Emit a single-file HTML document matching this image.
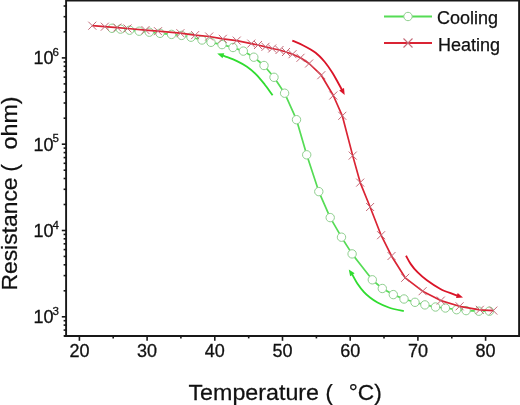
<!DOCTYPE html><html><head><meta charset="utf-8"><style>html,body{margin:0;padding:0;background:#fff;width:520px;height:405px;overflow:hidden}svg{display:block}</style></head><body><svg width="520" height="405" viewBox="0 0 520 405">
<rect x="0" y="0" width="520" height="405" fill="#fff"/>
<polyline points="112.0,28.3 120.5,29.1 129.6,30.2 139.2,31.2 149.3,32.2 160.0,33.3 171.5,34.4 181.6,35.4 191.0,37.2 202.0,40.0 211.0,42.3 222.0,44.6 233.0,47.5 243.3,51.1 253.8,57.2 264.0,65.5 274.0,77.3 284.6,93.2 296.5,119.7 306.7,154.8 318.8,191.6 330.2,217.6 341.5,237.2 352.1,253.9 372.3,279.8 382.3,288.5 393.3,294.6 404.0,299.0 415.0,302.3 424.9,304.9 435.5,307.0 445.4,308.0 456.6,309.7 466.1,310.6 478.8,311.2 489.4,311.2" fill="none" stroke="#55dc55" stroke-width="1.7" stroke-linejoin="round"/>
<circle cx="112.0" cy="28.3" r="4.2" fill="#fff" stroke="#8fcf8f" stroke-width="1.0"/>
<circle cx="120.5" cy="29.1" r="4.2" fill="#fff" stroke="#8fcf8f" stroke-width="1.0"/>
<circle cx="129.6" cy="30.2" r="4.2" fill="#fff" stroke="#8fcf8f" stroke-width="1.0"/>
<circle cx="139.2" cy="31.2" r="4.2" fill="#fff" stroke="#8fcf8f" stroke-width="1.0"/>
<circle cx="149.3" cy="32.2" r="4.2" fill="#fff" stroke="#8fcf8f" stroke-width="1.0"/>
<circle cx="160.0" cy="33.3" r="4.2" fill="#fff" stroke="#8fcf8f" stroke-width="1.0"/>
<circle cx="171.5" cy="34.4" r="4.2" fill="#fff" stroke="#8fcf8f" stroke-width="1.0"/>
<circle cx="181.6" cy="35.4" r="4.2" fill="#fff" stroke="#8fcf8f" stroke-width="1.0"/>
<circle cx="191.0" cy="37.2" r="4.2" fill="#fff" stroke="#8fcf8f" stroke-width="1.0"/>
<circle cx="202.0" cy="40.0" r="4.2" fill="#fff" stroke="#8fcf8f" stroke-width="1.0"/>
<circle cx="211.0" cy="42.3" r="4.2" fill="#fff" stroke="#8fcf8f" stroke-width="1.0"/>
<circle cx="222.0" cy="44.6" r="4.2" fill="#fff" stroke="#8fcf8f" stroke-width="1.0"/>
<circle cx="233.0" cy="47.5" r="4.2" fill="#fff" stroke="#8fcf8f" stroke-width="1.0"/>
<circle cx="243.3" cy="51.1" r="4.2" fill="#fff" stroke="#8fcf8f" stroke-width="1.0"/>
<circle cx="253.8" cy="57.2" r="4.2" fill="#fff" stroke="#8fcf8f" stroke-width="1.0"/>
<circle cx="264.0" cy="65.5" r="4.2" fill="#fff" stroke="#8fcf8f" stroke-width="1.0"/>
<circle cx="274.0" cy="77.3" r="4.2" fill="#fff" stroke="#8fcf8f" stroke-width="1.0"/>
<circle cx="284.6" cy="93.2" r="4.2" fill="#fff" stroke="#8fcf8f" stroke-width="1.0"/>
<circle cx="296.5" cy="119.7" r="4.2" fill="#fff" stroke="#8fcf8f" stroke-width="1.0"/>
<circle cx="306.7" cy="154.8" r="4.2" fill="#fff" stroke="#8fcf8f" stroke-width="1.0"/>
<circle cx="318.8" cy="191.6" r="4.2" fill="#fff" stroke="#8fcf8f" stroke-width="1.0"/>
<circle cx="330.2" cy="217.6" r="4.2" fill="#fff" stroke="#8fcf8f" stroke-width="1.0"/>
<circle cx="341.5" cy="237.2" r="4.2" fill="#fff" stroke="#8fcf8f" stroke-width="1.0"/>
<circle cx="352.1" cy="253.9" r="4.2" fill="#fff" stroke="#8fcf8f" stroke-width="1.0"/>
<circle cx="372.3" cy="279.8" r="4.2" fill="#fff" stroke="#8fcf8f" stroke-width="1.0"/>
<circle cx="382.3" cy="288.5" r="4.2" fill="#fff" stroke="#8fcf8f" stroke-width="1.0"/>
<circle cx="393.3" cy="294.6" r="4.2" fill="#fff" stroke="#8fcf8f" stroke-width="1.0"/>
<circle cx="404.0" cy="299.0" r="4.2" fill="#fff" stroke="#8fcf8f" stroke-width="1.0"/>
<circle cx="415.0" cy="302.3" r="4.2" fill="#fff" stroke="#8fcf8f" stroke-width="1.0"/>
<circle cx="424.9" cy="304.9" r="4.2" fill="#fff" stroke="#8fcf8f" stroke-width="1.0"/>
<circle cx="435.5" cy="307.0" r="4.2" fill="#fff" stroke="#8fcf8f" stroke-width="1.0"/>
<circle cx="445.4" cy="308.0" r="4.2" fill="#fff" stroke="#8fcf8f" stroke-width="1.0"/>
<circle cx="456.6" cy="309.7" r="4.2" fill="#fff" stroke="#8fcf8f" stroke-width="1.0"/>
<circle cx="466.1" cy="310.6" r="4.2" fill="#fff" stroke="#8fcf8f" stroke-width="1.0"/>
<circle cx="478.8" cy="311.2" r="4.2" fill="#fff" stroke="#8fcf8f" stroke-width="1.0"/>
<circle cx="489.4" cy="311.2" r="4.2" fill="#fff" stroke="#8fcf8f" stroke-width="1.0"/>
<polyline points="92.3,25.7 104.8,26.7 117.3,27.6 127.5,28.5 145.5,30.1 158.0,31.2 180.4,33.2 195.1,35.1 209.2,36.5 222.8,38.8 236.7,40.6 251.3,43.6 258.0,45.0 265.5,46.8 272.2,48.5 279.5,50.0 286.0,52.0 292.5,54.2 300.5,57.8 309.1,63.5 321.3,75.2 333.3,95.5 342.3,115.8 352.7,155.6 360.2,182.6 370.1,207.0 381.1,235.2 391.5,256.0 405.2,277.8 422.6,291.2 440.8,300.6 459.6,306.3 479.8,309.8 493.3,310.6" fill="none" stroke="#da2434" stroke-width="1.7" stroke-linejoin="round"/>
<path d="M88.3,21.7L96.3,29.7M88.3,29.7L96.3,21.7" stroke="#c46a78" stroke-width="1.0" fill="none"/>
<path d="M100.8,22.7L108.8,30.7M100.8,30.7L108.8,22.7" stroke="#c46a78" stroke-width="1.0" fill="none"/>
<path d="M113.3,23.6L121.3,31.6M113.3,31.6L121.3,23.6" stroke="#c46a78" stroke-width="1.0" fill="none"/>
<path d="M123.5,24.5L131.5,32.5M123.5,32.5L131.5,24.5" stroke="#c46a78" stroke-width="1.0" fill="none"/>
<path d="M141.5,26.1L149.5,34.1M141.5,34.1L149.5,26.1" stroke="#c46a78" stroke-width="1.0" fill="none"/>
<path d="M154.0,27.2L162.0,35.2M154.0,35.2L162.0,27.2" stroke="#c46a78" stroke-width="1.0" fill="none"/>
<path d="M176.4,29.2L184.4,37.2M176.4,37.2L184.4,29.2" stroke="#c46a78" stroke-width="1.0" fill="none"/>
<path d="M191.1,31.1L199.1,39.1M191.1,39.1L199.1,31.1" stroke="#c46a78" stroke-width="1.0" fill="none"/>
<path d="M205.2,32.5L213.2,40.5M205.2,40.5L213.2,32.5" stroke="#c46a78" stroke-width="1.0" fill="none"/>
<path d="M218.8,34.8L226.8,42.8M218.8,42.8L226.8,34.8" stroke="#c46a78" stroke-width="1.0" fill="none"/>
<path d="M232.7,36.6L240.7,44.6M232.7,44.6L240.7,36.6" stroke="#c46a78" stroke-width="1.0" fill="none"/>
<path d="M247.3,39.6L255.3,47.6M247.3,47.6L255.3,39.6" stroke="#c46a78" stroke-width="1.0" fill="none"/>
<path d="M254.0,41.0L262.0,49.0M254.0,49.0L262.0,41.0" stroke="#c46a78" stroke-width="1.0" fill="none"/>
<path d="M261.5,42.8L269.5,50.8M261.5,50.8L269.5,42.8" stroke="#c46a78" stroke-width="1.0" fill="none"/>
<path d="M268.2,44.5L276.2,52.5M268.2,52.5L276.2,44.5" stroke="#c46a78" stroke-width="1.0" fill="none"/>
<path d="M275.5,46.0L283.5,54.0M275.5,54.0L283.5,46.0" stroke="#c46a78" stroke-width="1.0" fill="none"/>
<path d="M282.0,48.0L290.0,56.0M282.0,56.0L290.0,48.0" stroke="#c46a78" stroke-width="1.0" fill="none"/>
<path d="M288.5,50.2L296.5,58.2M288.5,58.2L296.5,50.2" stroke="#c46a78" stroke-width="1.0" fill="none"/>
<path d="M296.5,53.8L304.5,61.8M296.5,61.8L304.5,53.8" stroke="#c46a78" stroke-width="1.0" fill="none"/>
<path d="M305.1,59.5L313.1,67.5M305.1,67.5L313.1,59.5" stroke="#c46a78" stroke-width="1.0" fill="none"/>
<path d="M317.3,71.2L325.3,79.2M317.3,79.2L325.3,71.2" stroke="#c46a78" stroke-width="1.0" fill="none"/>
<path d="M329.3,91.5L337.3,99.5M329.3,99.5L337.3,91.5" stroke="#c46a78" stroke-width="1.0" fill="none"/>
<path d="M338.3,111.8L346.3,119.8M338.3,119.8L346.3,111.8" stroke="#c46a78" stroke-width="1.0" fill="none"/>
<path d="M348.7,151.6L356.7,159.6M348.7,159.6L356.7,151.6" stroke="#c46a78" stroke-width="1.0" fill="none"/>
<path d="M356.2,178.6L364.2,186.6M356.2,186.6L364.2,178.6" stroke="#c46a78" stroke-width="1.0" fill="none"/>
<path d="M366.1,203.0L374.1,211.0M366.1,211.0L374.1,203.0" stroke="#c46a78" stroke-width="1.0" fill="none"/>
<path d="M377.1,231.2L385.1,239.2M377.1,239.2L385.1,231.2" stroke="#c46a78" stroke-width="1.0" fill="none"/>
<path d="M387.5,252.0L395.5,260.0M387.5,260.0L395.5,252.0" stroke="#c46a78" stroke-width="1.0" fill="none"/>
<path d="M401.2,273.8L409.2,281.8M401.2,281.8L409.2,273.8" stroke="#c46a78" stroke-width="1.0" fill="none"/>
<path d="M418.6,287.2L426.6,295.2M418.6,295.2L426.6,287.2" stroke="#c46a78" stroke-width="1.0" fill="none"/>
<path d="M436.8,296.6L444.8,304.6M436.8,304.6L444.8,296.6" stroke="#c46a78" stroke-width="1.0" fill="none"/>
<path d="M455.6,302.3L463.6,310.3M455.6,310.3L463.6,302.3" stroke="#c46a78" stroke-width="1.0" fill="none"/>
<path d="M475.8,305.8L483.8,313.8M475.8,313.8L483.8,305.8" stroke="#c46a78" stroke-width="1.0" fill="none"/>
<path d="M489.3,306.6L497.3,314.6M489.3,314.6L497.3,306.6" stroke="#c46a78" stroke-width="1.0" fill="none"/>
<path d="M272.6,95.2 C271.2,93.4 267.3,87.8 264.5,84.2 C261.7,80.8 258.7,77.2 255.8,74.2 C252.8,71.3 250.1,68.9 247.0,66.8 C243.9,64.6 240.8,62.9 237.0,61.1 C233.2,59.3 227.0,57.1 224.5,56.1 C222.0,55.1 222.4,55.4 222.0,55.2" fill="none" stroke="#30dc30" stroke-width="1.85" stroke-linecap="butt"/><polygon points="217.2,53.6 224.3,53.2 222.5,58.3" fill="#30dc30"/>
<path d="M292.3,40.6 C294.1,41.4 299.4,43.5 303.3,45.5 C307.2,47.5 312.0,50.0 315.6,52.8 C319.2,55.5 322.0,58.7 324.8,62.0 C327.6,65.3 330.1,69.2 332.4,72.8 C334.7,76.4 336.8,80.5 338.5,83.5 C340.2,86.5 341.7,89.4 342.3,90.6" fill="none" stroke="#da1428" stroke-width="1.85" stroke-linecap="butt"/><polygon points="344.7,95.0 339.2,90.6 344.0,88.0" fill="#da1428"/>
<path d="M403.8,311.2 C401.2,310.6 393.1,309.0 388.8,307.5 C384.4,306.0 380.6,304.2 377.5,302.5 C374.4,300.8 372.3,299.3 370.0,297.5 C367.7,295.7 365.8,294.2 363.8,291.9 C361.7,289.6 359.4,286.6 357.5,283.8 C355.6,280.9 353.5,276.7 352.5,275.0 C351.5,273.3 351.7,273.8 351.5,273.6" fill="none" stroke="#30dc30" stroke-width="1.85" stroke-linecap="butt"/><polygon points="348.8,269.4 354.6,273.3 350.1,276.3" fill="#30dc30"/>
<path d="M406.0,255.7 C406.8,257.1 408.9,261.4 410.8,264.1 C412.7,266.9 414.8,269.5 417.5,272.2 C420.2,274.9 423.1,277.5 426.9,280.3 C430.7,283.1 435.9,286.6 440.4,289.0 C444.9,291.4 450.8,293.2 453.8,294.4 C456.8,295.6 457.5,295.7 458.3,296.0" fill="none" stroke="#da1428" stroke-width="1.85" stroke-linecap="butt"/><polygon points="463.0,297.6 456.0,298.0 457.7,292.9" fill="#da1428"/>
<g stroke="#181818" stroke-width="1.9" fill="none">
<path d="M66.1,0.5 L519.1,0.5 M519.1,0 L519.1,336.8 M64.1,336 L520,336 M66.1,0 L66.1,336.8"/>
<line x1="79.4" y1="336" x2="79.4" y2="340.8" stroke-width="1.6"/>
<line x1="113.2" y1="336" x2="113.2" y2="338.4" stroke-width="1.6"/>
<line x1="147.1" y1="336" x2="147.1" y2="340.8" stroke-width="1.6"/>
<line x1="180.9" y1="336" x2="180.9" y2="338.4" stroke-width="1.6"/>
<line x1="214.8" y1="336" x2="214.8" y2="340.8" stroke-width="1.6"/>
<line x1="248.7" y1="336" x2="248.7" y2="338.4" stroke-width="1.6"/>
<line x1="282.5" y1="336" x2="282.5" y2="340.8" stroke-width="1.6"/>
<line x1="316.4" y1="336" x2="316.4" y2="338.4" stroke-width="1.6"/>
<line x1="350.2" y1="336" x2="350.2" y2="340.8" stroke-width="1.6"/>
<line x1="384.0" y1="336" x2="384.0" y2="338.4" stroke-width="1.6"/>
<line x1="417.9" y1="336" x2="417.9" y2="340.8" stroke-width="1.6"/>
<line x1="451.8" y1="336" x2="451.8" y2="338.4" stroke-width="1.6"/>
<line x1="485.6" y1="336" x2="485.6" y2="340.8" stroke-width="1.6"/>
<line x1="63.6" y1="335.9" x2="66" y2="335.9" stroke-width="1.6"/>
<line x1="63.6" y1="330.1" x2="66" y2="330.1" stroke-width="1.6"/>
<line x1="63.6" y1="325.1" x2="66" y2="325.1" stroke-width="1.6"/>
<line x1="63.6" y1="320.7" x2="66" y2="320.7" stroke-width="1.6"/>
<line x1="61.8" y1="316.8" x2="66" y2="316.8" stroke-width="1.6"/>
<line x1="63.6" y1="290.8" x2="66" y2="290.8" stroke-width="1.6"/>
<line x1="63.6" y1="275.6" x2="66" y2="275.6" stroke-width="1.6"/>
<line x1="63.6" y1="264.8" x2="66" y2="264.8" stroke-width="1.6"/>
<line x1="63.6" y1="256.4" x2="66" y2="256.4" stroke-width="1.6"/>
<line x1="63.6" y1="249.6" x2="66" y2="249.6" stroke-width="1.6"/>
<line x1="63.6" y1="243.8" x2="66" y2="243.8" stroke-width="1.6"/>
<line x1="63.6" y1="238.8" x2="66" y2="238.8" stroke-width="1.6"/>
<line x1="63.6" y1="234.4" x2="66" y2="234.4" stroke-width="1.6"/>
<line x1="61.8" y1="230.5" x2="66" y2="230.5" stroke-width="1.6"/>
<line x1="63.6" y1="204.5" x2="66" y2="204.5" stroke-width="1.6"/>
<line x1="63.6" y1="189.3" x2="66" y2="189.3" stroke-width="1.6"/>
<line x1="63.6" y1="178.5" x2="66" y2="178.5" stroke-width="1.6"/>
<line x1="63.6" y1="170.2" x2="66" y2="170.2" stroke-width="1.6"/>
<line x1="63.6" y1="163.3" x2="66" y2="163.3" stroke-width="1.6"/>
<line x1="63.6" y1="157.6" x2="66" y2="157.6" stroke-width="1.6"/>
<line x1="63.6" y1="152.6" x2="66" y2="152.6" stroke-width="1.6"/>
<line x1="63.6" y1="148.1" x2="66" y2="148.1" stroke-width="1.6"/>
<line x1="61.8" y1="144.2" x2="66" y2="144.2" stroke-width="1.6"/>
<line x1="63.6" y1="118.2" x2="66" y2="118.2" stroke-width="1.6"/>
<line x1="63.6" y1="103.0" x2="66" y2="103.0" stroke-width="1.6"/>
<line x1="63.6" y1="92.2" x2="66" y2="92.2" stroke-width="1.6"/>
<line x1="63.6" y1="83.9" x2="66" y2="83.9" stroke-width="1.6"/>
<line x1="63.6" y1="77.1" x2="66" y2="77.1" stroke-width="1.6"/>
<line x1="63.6" y1="71.3" x2="66" y2="71.3" stroke-width="1.6"/>
<line x1="63.6" y1="66.3" x2="66" y2="66.3" stroke-width="1.6"/>
<line x1="63.6" y1="61.9" x2="66" y2="61.9" stroke-width="1.6"/>
<line x1="61.8" y1="57.9" x2="66" y2="57.9" stroke-width="1.6"/>
<line x1="63.6" y1="31.9" x2="66" y2="31.9" stroke-width="1.6"/>
<line x1="63.6" y1="16.7" x2="66" y2="16.7" stroke-width="1.6"/>
<line x1="63.6" y1="6.0" x2="66" y2="6.0" stroke-width="1.6"/>
</g>
<g font-family="Liberation Sans, Arial, sans-serif" font-size="18" fill="#111" stroke="#111" stroke-width="0.3" text-anchor="middle">
<text x="79.4" y="356.6">20</text>
<text x="147.1" y="356.6">30</text>
<text x="214.8" y="356.6">40</text>
<text x="282.5" y="356.6">50</text>
<text x="350.2" y="356.6">60</text>
<text x="417.9" y="356.6">70</text>
<text x="485.6" y="356.6">80</text>
</g>
<g font-family="Liberation Sans, Arial, sans-serif" fill="#111" stroke="#111" stroke-width="0.3">
<text x="33.4" y="64.4" font-size="18">10</text>
<text x="52.6" y="56.1" font-size="11.5">6</text>
<text x="33.4" y="150.7" font-size="18">10</text>
<text x="52.6" y="142.4" font-size="11.5">5</text>
<text x="33.4" y="237.0" font-size="18">10</text>
<text x="52.6" y="228.7" font-size="11.5">4</text>
<text x="33.4" y="323.2" font-size="18">10</text>
<text x="52.6" y="314.9" font-size="11.5">3</text>
</g>
<text font-family="Liberation Sans, Arial, sans-serif" font-size="22" fill="#111" stroke="#111" stroke-width="0.25" transform="translate(188.5,399.8) scale(1.058,1)">Temperature</text>
<text font-family="Liberation Sans, Arial, sans-serif" font-size="22" fill="#111" stroke="#111" stroke-width="0.25" transform="translate(325.4,399.8) scale(1.0,1)">(</text>
<text font-family="Liberation Sans, Arial, sans-serif" font-size="22" fill="#111" stroke="#111" stroke-width="0.25" transform="translate(348.8,399.8) scale(1.03,1)">°C)</text>
<g transform="translate(16.7,0) rotate(-90)">
<text font-family="Liberation Sans, Arial, sans-serif" font-size="22" fill="#111" stroke="#111" stroke-width="0.25" transform="translate(-290.6,0) scale(1.04,1)">Resistance</text>
<text font-family="Liberation Sans, Arial, sans-serif" font-size="22" fill="#111" stroke="#111" stroke-width="0.25" transform="translate(-171.4,0) scale(1.0,1)">(</text>
<text font-family="Liberation Sans, Arial, sans-serif" font-size="22" fill="#111" stroke="#111" stroke-width="0.25" transform="translate(-149.5,0) scale(1.06,1)">ohm)</text>
</g>
<line x1="384" y1="16.5" x2="432" y2="16.5" stroke="#55dc55" stroke-width="2"/>
<circle cx="408" cy="16.5" r="4.2" fill="#fff" stroke="#8fcf8f" stroke-width="1.0"/>
<line x1="384" y1="43" x2="432" y2="43" stroke="#da2434" stroke-width="2"/>
<path d="M403.5,38.5L412.5,47.5M403.5,47.5L412.5,38.5" stroke="#c46a78" stroke-width="1.1"/>
<text font-family="Liberation Sans, Arial, sans-serif" font-size="18" fill="#111" stroke="#111" stroke-width="0.25" x="437" y="23.8">Cooling</text>
<text font-family="Liberation Sans, Arial, sans-serif" font-size="18" fill="#111" stroke="#111" stroke-width="0.25" x="437.9" y="50.5">Heating</text>
</svg></body></html>
